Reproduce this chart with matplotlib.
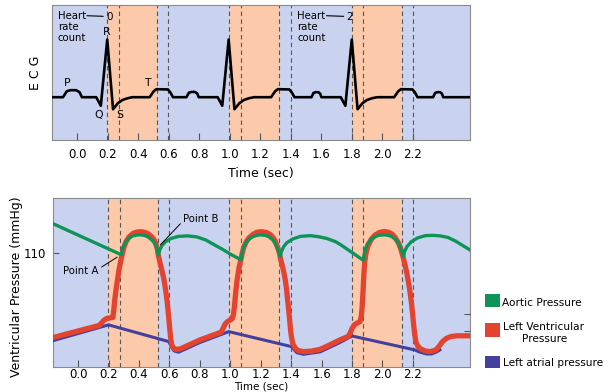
import numpy as np
import matplotlib
matplotlib.use('Agg')
import matplotlib.pyplot as plt
from matplotlib.patches import Rectangle

# cardiac cycle timing (sec)
r_peaks = [0.197, 0.993, 1.8]
phase_lines = [0.197, 0.272, 0.525, 0.597, 0.993, 1.072, 1.321, 1.4,
               1.8, 1.875, 2.131, 2.2]
systole_spans = [(0.197, 0.525), (0.993, 1.321), (1.8, 2.131)]
time_ticks = [0.0, 0.2, 0.4, 0.6, 0.8, 1.0, 1.2, 1.4, 1.6, 1.8, 2.0, 2.2]
time_labels = ['0.0', '0.2', '0.4', '0.6', '0.8', '1.0', '1.2', '1.4',
               '1.6', '1.8', '2.0', '2.2']

# ECG: P waves (start, width, height) + QRS-T complex relative to R (mV)
p_starts = [-0.093, 0.716, 1.536, 2.333]
p_widths = [0.124, 0.081, 0.065, 0.066]
p_heights = [0.14, 0.105, 0.1, 0.1]
p_shape_x = [0.0, 0.2, 0.4, 0.7, 0.88, 1.0]
p_shape_y = [0.0, 0.85, 1.0, 1.0, 0.7, 0.0]
qrst_dt = [-0.072, -0.042, 0.0, 0.038, 0.07, 0.1, 0.134, 0.166,
           0.278, 0.305, 0.322, 0.398, 0.415, 0.431]
qrst_mv = [0.0, -0.17, 1.15, -0.24, -0.12, -0.055, -0.02, 0.0,
           0.0, 0.12, 0.16, 0.155, 0.09, 0.0]

# pressures (mmHg)
aortic_t = [-0.16, 0.285, 0.29, 0.30, 0.315, 0.335, 0.36, 0.385, 0.41, 0.435, 0.46,
            0.485, 0.50, 0.512, 0.52, 0.527,
            0.535, 0.55, 0.575, 0.61, 0.66, 0.72, 0.78, 0.84, 0.9, 0.95, 1.0, 1.07,
            1.076, 1.085, 1.1, 1.12, 1.145, 1.175, 1.2, 1.23, 1.255, 1.28, 1.3,
            1.313, 1.322, 1.328,
            1.336, 1.35, 1.372, 1.41, 1.46, 1.525, 1.58, 1.634, 1.69, 1.72, 1.77,
            1.82, 1.874,
            1.879, 1.888, 1.9, 1.92, 1.945, 1.975, 2.01, 2.04, 2.065, 2.09, 2.11,
            2.122, 2.131, 2.137,
            2.145, 2.16, 2.19, 2.23, 2.28, 2.33, 2.38, 2.43, 2.48, 2.53, 2.575]
aortic_p = [137.4, 107.8, 113, 117, 120.5, 124, 126, 126.8, 127, 126.5, 125,
            122, 119.5, 116, 112.5, 107.5,
            112, 116.5, 120.5, 123.5, 125.5, 126, 125, 122, 117, 113, 108.5, 103,
            109, 114, 119, 122.5, 125, 126.6, 127, 126.5, 125, 122, 117.5,
            113, 109.5, 106,
            111, 115.5, 119.5, 123, 125.5, 126.2, 125.2, 123.5, 120.5, 118, 113,
            108, 102.5,
            108, 113.5, 118, 122, 124.8, 126.5, 127, 126.5, 125, 122, 117.5,
            113, 109.5, 106,
            111, 115.5, 120.5, 124, 126.2, 126.5, 126, 124.5, 121, 116.5, 112.5]

lv_t = [-0.16, 0.14, 0.155, 0.17, 0.19, 0.228, 0.234, 0.242, 0.25, 0.258, 0.268,
        0.279, 0.29, 0.30, 0.315, 0.335, 0.36, 0.385, 0.41, 0.435, 0.46, 0.485,
        0.50, 0.512, 0.52, 0.527, 0.54, 0.552, 0.563, 0.575, 0.585, 0.594, 0.602,
        0.608, 0.615, 0.625, 0.645, 0.67, 0.8, 0.94,
        0.952, 0.965, 0.98, 1.0, 1.013, 1.02, 1.027, 1.035, 1.045, 1.057, 1.07,
        1.08, 1.09, 1.105, 1.125, 1.15, 1.175, 1.205, 1.235, 1.26, 1.28, 1.298,
        1.312, 1.322, 1.33, 1.34, 1.352, 1.362, 1.37, 1.377, 1.384, 1.39, 1.397,
        1.404, 1.412, 1.425, 1.445, 1.48, 1.53, 1.59, 1.65, 1.72, 1.776,
        1.79, 1.8, 1.815, 1.831, 1.852, 1.86, 1.866, 1.872, 1.878, 1.884, 1.892,
        1.905, 1.925, 1.95, 1.98, 2.012, 2.04, 2.065, 2.085, 2.104, 2.12, 2.132,
        2.145, 2.159, 2.17, 2.18, 2.19, 2.198, 2.205, 2.212, 2.22, 2.232, 2.25,
        2.28, 2.31, 2.335, 2.355, 2.375, 2.395, 2.42, 2.45, 2.49, 2.575]
lv_p = [28.5, 40, 42.5, 45, 46.8, 47.5, 54, 66, 75, 83, 93,
        101, 108.5, 114.5, 120.5, 125, 128.3, 129.6, 130, 129.5, 128, 125,
        122, 118, 113.5, 107.5, 99, 92, 85, 74, 63, 50, 37,
        28, 21.5, 18.3, 17, 17.3, 26, 33.5,
        37, 41, 43.5, 45.2, 46.5, 50, 58, 71, 84, 95, 103.5,
        110.5, 115.5, 120.5, 124.5, 127.5, 129.5, 130, 129.3, 127.5, 124.5, 120,
        114.5, 110, 104, 98.5, 91, 83, 74, 64, 54, 45, 34,
        27, 22, 18.5, 15.8, 14.8, 15.2, 17, 21, 26, 29.5,
        33.5, 37, 40.5, 42, 43.6, 48, 57, 72, 90, 102, 110,
        116.5, 122.5, 126.7, 129.3, 130.2, 129.5, 127.5, 124, 119.5, 113.5, 107.5,
        100, 91, 82, 73, 62, 51, 40, 31, 24, 20, 17.5,
        15.5, 14.8, 15.5, 17, 20.5, 24.5, 27.5, 29.3, 30, 30]

la_t = [-0.16, 0.2, 0.596, 0.612, 0.63, 0.66, 0.8, 0.99,
        1.405, 1.42, 1.437, 1.48, 1.59, 1.72, 1.8,
        2.213, 2.24, 2.29, 2.323, 2.355, 2.377]
la_p = [25.5, 40.5, 24.4, 19.5, 15.5, 14.2, 23.5, 34,
        19.5, 16.5, 13.8, 12.2, 14.5, 23.5, 29.8,
        16.4, 14.5, 12.5, 12.5, 14.5, 16.4]

bg_blue = '#c9d3f0'
sys_orange = '#fcc9aa'
c_aortic = '#0f9458'
c_lv = '#e4442f'
c_la = '#44409e'

# assemble the ECG trace from the beat pieces
pts = [(-0.17, 0.0), (2.58, 0.0)]
for s, w, h in zip(p_starts, p_widths, p_heights):
    pts += [(s + w * fx, h * fy) for fx, fy in zip(p_shape_x, p_shape_y)]
for r in r_peaks:
    pts += [(r + d, v) for d, v in zip(qrst_dt, qrst_mv)]
pts.sort()
ecg_t = [p[0] for p in pts]
ecg_v = [p[1] for p in pts]

W, H = 612, 392
fig = plt.figure(figsize=(W / 100, H / 100), dpi=100)
ax1 = fig.add_axes([52 / W, 1 - 140 / H, 418 / W, 135 / H])
ax2 = fig.add_axes([53 / W, 1 - 367 / H, 417 / W, 169 / H])

for ax in (ax1, ax2):
    ax.set_facecolor(bg_blue)
    for a, b in systole_spans:
        ax.axvspan(a, b, color=sys_orange, lw=0, zorder=0.5)
    for t in phase_lines:
        ax.axvline(t, color='#555555', lw=0.8, ls=(0, (4, 3)), zorder=1)
    ax.set_xlim(-0.165, 2.575)
    ax.set_xticks(time_ticks, time_labels)
    ax.tick_params(axis='x', direction='in', length=5, width=0.8, color='#555555',
                   labelsize=8.5)
    for sp in ax.spines.values():
        sp.set_color('#8a8a8a')
        sp.set_linewidth(0.8)

# ECG panel
ax1.plot(ecg_t, ecg_v, color='black', lw=1.9, zorder=3)
ax1.set_ylim(-0.854, 1.84)
ax1.set_yticks([])
ax1.tick_params(axis='x', pad=6)
ax1.set_xlabel('Time (sec)', fontsize=9)
ax1.xaxis.set_label_coords(0.5, -0.2)
ax1.set_ylabel('E C G', fontsize=9)
ax1.yaxis.set_label_coords(-0.025, 0.5)

ax1.text(-0.126, 1.72, 'Heart\nrate\ncount', va='top', ha='left', fontsize=7.3,
         linespacing=1.1)
ax1.annotate('0', xy=(0.064, 1.626), xytext=(0.21, 1.61), ha='center', va='center',
             fontsize=7.5, arrowprops=dict(arrowstyle='-', lw=0.8, color='black',
                                           shrinkA=0, shrinkB=0))
ax1.text(1.444, 1.72, 'Heart\nrate\ncount', va='top', ha='left', fontsize=7.3,
         linespacing=1.1)
ax1.annotate('2', xy=(1.634, 1.626), xytext=(1.787, 1.61), ha='center', va='center',
             fontsize=7.5, arrowprops=dict(arrowstyle='-', lw=0.8, color='black',
                                           shrinkA=0, shrinkB=0))
for lbl, x, y in [('R', 0.195, 1.3), ('Q', 0.141, -0.354), ('S', 0.279, -0.354),
                  ('P', -0.064, 0.28), ('T', 0.46, 0.28)]:
    ax1.text(x, y, lbl, ha='center', va='center', fontsize=7.8)

# pressure panel
ax2.plot(la_t, la_p, color=c_la, lw=2.2, zorder=3)
ax2.plot(lv_t, lv_p, color=c_lv, lw=3.8, zorder=4)
ax2.plot(aortic_t, aortic_p, color=c_aortic, lw=2.4, zorder=5)
ax2.set_ylim(0, 162.4)
ax2.set_yticks([110], ['110'])
ax2.tick_params(axis='y', direction='in', length=4, width=0.8, color='#555555',
                labelsize=8.5, pad=5)
ax2.tick_params(axis='x', pad=0.5)
ax2.set_xlabel('Time (sec)', fontsize=7.5)
ax2.xaxis.set_label_coords(0.5, -0.085)
ax2.set_ylabel('Ventricular Pressure (mmHg)', fontsize=9)
ax2.yaxis.set_label_coords(-0.073, 0.474)

ax2r = ax2.twinx()
ax2r.set_ylim(ax2.get_ylim())
ax2r.set_yticks([35, 51])
ax2r.tick_params(axis='y', direction='in', length=4, width=0.8, color='#555555',
                 labelright=False)
for sp in ax2r.spines.values():
    sp.set_visible(False)

ax2.annotate('Point A', xy=(0.257, 105.6), xytext=(-0.097, 92.4), ha='left',
             va='center', fontsize=7.3, zorder=6,
             arrowprops=dict(arrowstyle='-', lw=0.7, color='black', shrinkA=0,
                             shrinkB=0, relpos=(1.0, 0.7)))
ax2.annotate('Point B', xy=(0.541, 117.4), xytext=(0.69, 142.4), ha='left',
             va='center', fontsize=7.3, zorder=6,
             arrowprops=dict(arrowstyle='-', lw=0.7, color='black', shrinkA=0,
                             shrinkB=0, relpos=(0.0, 0.3)))

# legend
legend_items = [(c_aortic, 294, 307), (c_lv, 323, 337), (c_la, 356, 368)]
for col, y0, y1 in legend_items:
    fig.add_artist(Rectangle((485 / W, 1 - y1 / H), 15 / W, (y1 - y0) / H,
                             transform=fig.transFigure, facecolor=col,
                             edgecolor='none'))
fig.text(502 / W, 1 - 302.5 / H, 'Aortic Pressure', fontsize=7.6, va='center')
fig.text(503 / W, 1 - 326.5 / H, 'Left Ventricular', fontsize=7.6, va='center')
fig.text(545 / W, 1 - 338.5 / H, 'Pressure', fontsize=7.6, va='center', ha='center')
fig.text(503 / W, 1 - 363.3 / H, 'Left atrial pressure', fontsize=7.6, va='center')

fig.savefig('out.png', dpi=100)
